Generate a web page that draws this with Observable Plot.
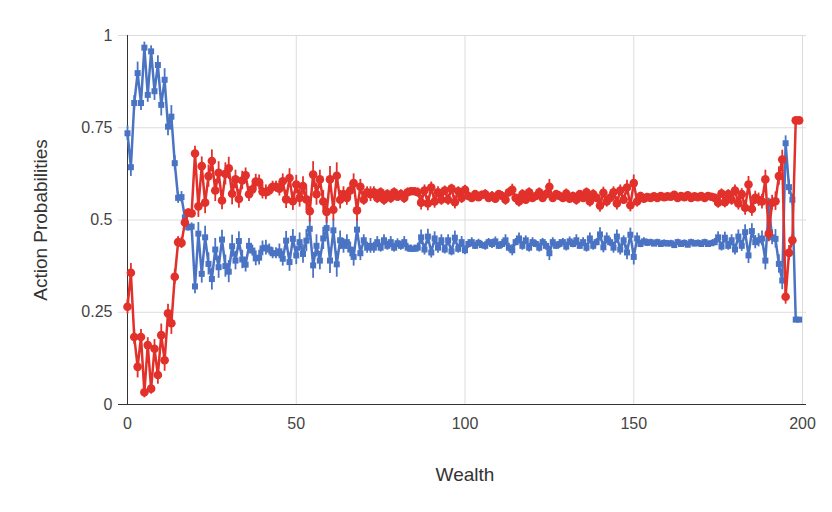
<!DOCTYPE html>
<html><head><meta charset="utf-8">
<script src="https://cdn.jsdelivr.net/npm/d3@7"></script>
<script src="https://cdn.jsdelivr.net/npm/@observablehq/plot@0.6"></script>
<style>body{margin:0;background:#fff;}</style>
</head><body><div id="chart"></div>
<script>
const blueProb = [
0.735,0.643,0.817,0.898,0.817,0.967,0.839,0.957,0.849,0.920,
0.812,0.880,0.753,0.780,0.654,0.560,0.562,0.507,0.480,0.482,
0.320,0.463,0.354,0.453,0.381,0.340,0.420,0.372,0.447,0.375,
0.360,0.429,0.390,0.443,0.393,0.379,0.430,0.417,0.396,0.398,
0.423,0.425,0.420,0.410,0.410,0.415,0.395,0.444,0.386,0.449,
0.404,0.440,0.408,0.444,0.476,0.377,0.430,0.390,0.450,0.478,
0.390,0.472,0.380,0.445,0.430,0.440,0.420,0.400,0.474,0.410,
0.445,0.425,0.430,0.425,0.440,0.425,0.445,0.430,0.440,0.425,
0.437,0.430,0.440,0.425,0.422,0.422,0.425,0.453,0.420,0.455,
0.412,0.450,0.425,0.445,0.420,0.445,0.415,0.452,0.422,0.440,
0.418,0.435,0.440,0.430,0.438,0.432,0.430,0.440,0.435,0.442,
0.430,0.435,0.445,0.425,0.418,0.440,0.450,0.430,0.445,0.425,
0.440,0.435,0.425,0.440,0.430,0.410,0.440,0.430,0.435,0.440,
0.428,0.442,0.435,0.445,0.430,0.440,0.425,0.450,0.430,0.440,
0.461,0.426,0.450,0.440,0.425,0.455,0.420,0.445,0.412,0.460,
0.400,0.450,0.435,0.442,0.438,0.440,0.436,0.440,0.435,0.438,
0.436,0.437,0.432,0.440,0.435,0.438,0.433,0.440,0.436,0.438,
0.435,0.440,0.435,0.437,0.440,0.453,0.428,0.452,0.430,0.445,
0.420,0.455,0.430,0.467,0.404,0.470,0.440,0.445,0.450,0.390,
0.537,0.453,0.449,0.381,0.336,0.708,0.589,0.555,0.230,0.230
];
const redProb = [
0.265,0.357,0.183,0.102,0.183,0.033,0.161,0.043,0.151,0.080,
0.188,0.120,0.247,0.220,0.346,0.440,0.438,0.493,0.520,0.518,
0.680,0.537,0.646,0.547,0.619,0.660,0.580,0.628,0.553,0.625,
0.640,0.571,0.610,0.557,0.607,0.621,0.570,0.583,0.604,0.602,
0.577,0.575,0.580,0.590,0.590,0.585,0.605,0.556,0.614,0.551,
0.596,0.560,0.592,0.556,0.524,0.623,0.570,0.610,0.550,0.522,
0.610,0.528,0.620,0.555,0.570,0.560,0.580,0.600,0.526,0.590,
0.555,0.575,0.570,0.575,0.560,0.575,0.555,0.570,0.560,0.575,
0.563,0.570,0.560,0.575,0.578,0.578,0.575,0.547,0.580,0.545,
0.588,0.550,0.575,0.555,0.580,0.555,0.585,0.548,0.578,0.560,
0.582,0.565,0.560,0.570,0.562,0.568,0.570,0.560,0.565,0.558,
0.570,0.565,0.555,0.575,0.582,0.560,0.550,0.570,0.555,0.575,
0.560,0.565,0.575,0.560,0.570,0.590,0.560,0.570,0.565,0.560,
0.572,0.558,0.565,0.555,0.570,0.560,0.575,0.550,0.570,0.560,
0.539,0.574,0.550,0.560,0.575,0.545,0.580,0.555,0.588,0.540,
0.600,0.550,0.565,0.558,0.562,0.560,0.564,0.560,0.565,0.562,
0.564,0.563,0.568,0.560,0.565,0.562,0.567,0.560,0.564,0.562,
0.565,0.560,0.565,0.563,0.560,0.547,0.572,0.548,0.570,0.555,
0.580,0.545,0.570,0.533,0.596,0.530,0.560,0.555,0.550,0.610,
0.463,0.547,0.551,0.619,0.664,0.292,0.411,0.445,0.770,0.770
];
const errHalf = [
0.020,0.025,0.020,0.030,0.020,0.015,0.020,0.015,0.025,0.025,
0.030,0.030,0.025,0.030,0.020,0.015,0.015,0.010,0.010,0.010,
0.020,0.030,0.025,0.030,0.030,0.030,0.030,0.030,0.025,0.030,
0.030,0.030,0.025,0.025,0.025,0.020,0.020,0.015,0.020,0.020,
0.020,0.020,0.015,0.015,0.015,0.020,0.020,0.025,0.025,0.025,
0.025,0.025,0.025,0.030,0.030,0.035,0.030,0.025,0.030,0.030,
0.035,0.030,0.035,0.025,0.020,0.020,0.020,0.025,0.030,0.020,
0.015,0.015,0.020,0.015,0.015,0.012,0.015,0.012,0.015,0.012,
0.012,0.012,0.015,0.012,0.010,0.010,0.012,0.020,0.015,0.020,
0.015,0.018,0.015,0.015,0.012,0.015,0.012,0.018,0.012,0.015,
0.012,0.012,0.012,0.010,0.010,0.010,0.012,0.010,0.012,0.012,
0.010,0.012,0.015,0.012,0.015,0.010,0.015,0.012,0.012,0.012,
0.012,0.010,0.012,0.010,0.012,0.020,0.012,0.010,0.012,0.010,
0.012,0.012,0.010,0.015,0.010,0.012,0.012,0.015,0.012,0.010,
0.018,0.015,0.015,0.012,0.015,0.018,0.015,0.012,0.020,0.018,
0.022,0.015,0.010,0.010,0.010,0.008,0.008,0.008,0.008,0.008,
0.008,0.008,0.008,0.008,0.008,0.008,0.008,0.008,0.008,0.008,
0.008,0.008,0.008,0.008,0.010,0.015,0.012,0.015,0.012,0.015,
0.015,0.018,0.015,0.020,0.022,0.020,0.018,0.018,0.020,0.025,
0.022,0.020,0.025,0.025,0.025,0.020,0.020,0.015,0.005,0.005
];
const xTicks = [0, 50, 100, 150, 200];
const yTicks = [0, 0.25, 0.5, 0.75, 1];
const yTickLabels = ["0", "0.25", "0.5", "0.75", "1"];
const xTitle = "Wealth";
const yTitle = "Action Probabilities";
const blueColor = "#4a74c3";
const redColor = "#e2302a";

const rows = blueProb.map((b, i) => ({w: i, blue: b, red: redProb[i], e: errHalf[i]}));

const chart = Plot.plot({
  width: 832, height: 512,
  marginLeft: 127, marginRight: 30, marginTop: 35, marginBottom: 108,
  x: {domain: [0, 200]},
  y: {domain: [0, 1]},
  style: {fontFamily: "'Liberation Sans', Arial, sans-serif", fontSize: "16px", color: "#444", background: "#fff"},
  marks: [
    Plot.ruleY(yTicks, {stroke: "#dcdcdc", strokeWidth: 1, insetLeft: -9, insetRight: -4}),
    Plot.ruleX(xTicks.slice(1), {stroke: "#dcdcdc", strokeWidth: 1}),
    Plot.ruleX([0], {stroke: "#333", strokeWidth: 1}),
    Plot.ruleY([0], {stroke: "#333", strokeWidth: 1, insetLeft: -9, insetRight: -4}),
    Plot.axisY({ticks: yTicks, tickSize: 0, tickPadding: 15, label: null,
      tickFormat: d => yTickLabels[yTicks.indexOf(d)], fontSize: 16, fill: "#444"}),
    Plot.axisX({ticks: xTicks, tickSize: 0, tickPadding: 13, label: null,
      tickFormat: d => String(d), fontSize: 16, fill: "#444"}),
    // blue series
    Plot.ruleX(rows, {x: "w", y1: d => d.blue - d.e, y2: d => d.blue + d.e, stroke: blueColor, strokeWidth: 1.8}),
    Plot.line(rows, {x: "w", y: "blue", stroke: blueColor, strokeWidth: 2.5}),
    Plot.dot(rows, {x: "w", y: "blue", symbol: "square", r: 3.4, fill: blueColor, stroke: "none"}),
    // red series
    Plot.ruleX(rows, {x: "w", y1: d => d.red - d.e, y2: d => d.red + d.e, stroke: redColor, strokeWidth: 1.8}),
    Plot.line(rows, {x: "w", y: "red", stroke: redColor, strokeWidth: 2.5}),
    Plot.dot(rows, {x: "w", y: "red", r: 4.3, fill: redColor, stroke: "none"}),
    // titles
    Plot.text([xTitle], {frameAnchor: "bottom", dy: 70, text: d => d, fontSize: 19, fill: "#333", textAnchor: "middle", lineAnchor: "middle"}),
    Plot.text([yTitle], {frameAnchor: "left", dx: -87, rotate: -90, text: d => d, fontSize: 19, fill: "#333", textAnchor: "middle", lineAnchor: "middle"})
  ]
});
document.getElementById("chart").appendChild(chart);
</script>
</body></html>
